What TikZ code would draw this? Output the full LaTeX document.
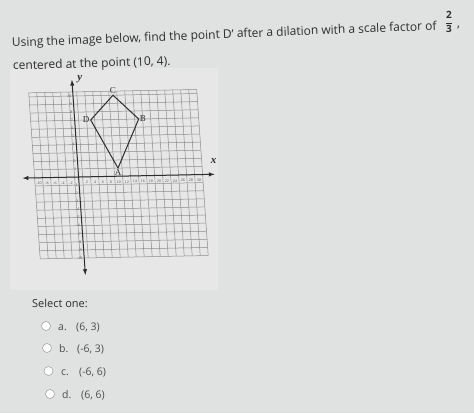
\documentclass[tikz,border=0pt]{standalone}
\usepackage{amsmath}
\usepackage{fontspec}
\setmainfont{Open Sans}
\newfontfamily\plotfont{Liberation Serif}
\usetikzlibrary{arrows, positioning}
\definecolor{screen}{RGB}{224,226,225}
\definecolor{panel}{RGB}{230,231,230}
\definecolor{ink}{RGB}{45,45,45}
\definecolor{gridcol}{RGB}{140,140,140}
\tikzset{
question/.style={anchor=base west, text=ink, font=\fontsize{12}{14}\selectfont, inner sep=0pt}, % text of the question
gridline/.style={gridcol, line width=0.5pt},
axis/.style={latex-latex, ink, line width=1pt},
kite/.style={ink, line width=1pt, line join=round},
vlbl/.style={font=\plotfont\fontsize{9}{9}\selectfont, text=ink, inner sep=1pt}, % vertex letters
axlbl/.style={font=\plotfont\itshape\bfseries\fontsize{11}{11}\selectfont, text=ink, inner sep=0pt},
ticklbl/.style={font=\plotfont\fontsize{4}{4}\selectfont, text=gridcol!60!black, inner sep=0pt},
radio/.style={circle, draw=gray!70, fill=white, line width=0.6pt, minimum size=9pt, inner sep=0pt},
optlbl/.style={anchor=base west, text=ink!85, font=\fontsize{10.5}{12}\selectfont, inner sep=0pt},
}

\begin{document}
\begin{tikzpicture}[x=1pt, y=1pt]
        \useasboundingbox (0,0) rectangle (474,413);
        \fill[screen] (0,0) rectangle (474,413);
        \fill[panel] (10,123) rectangle (218,345);
        % question
        \node[question, rotate=2.3] (q1) at (12,366) {Using the image below, find the point D\textquoteright{} after a dilation with a scale factor of};
        \node[text=ink, font=\fontsize{10}{12}\selectfont, inner sep=0pt] (frac) at (449,391) {$\dfrac{\text{\textbf{2}}}{\text{\textbf{3}}}$};
        \node[question] (comma) at (457,385) {,};
        \node[question, rotate=1.8] (q2) at (13,343) {centered at the point (10, 4).};
        % the graph, slanted like the photo
        \begin{scope}[shift={(78.6,236)}, x={(4pt,0.08pt)}, y={(-0.56pt,8.1pt)}]
        \foreach \gx in {-11,-9,...,31} \draw[gridline] (\gx,-10) -- (\gx,10.5);
        \foreach \gy in {-10,...,10} \draw[gridline] (-11,\gy) -- (31,\gy);
        \draw[gridline] (-11,10.5) -- (31,10.5);
        \foreach \t in {-10,-8,...,30} {\ifnum\t=0\else\node[ticklbl] at (\t,-0.7) {\t};\fi}
        \foreach \t in {-10,...,10} {\ifnum\t=0\else\node[ticklbl, anchor=east] at (-0.4,\t) {\t};\fi}
        \coordinate (xl) at (-14,0);
        \coordinate (xr) at (34,0);
        \coordinate (yb) at (0,-12.1);
        \coordinate (yt) at (0,12);
        \draw[axis] (xl) -- (xr);
        \draw[axis] (yb) -- (yt);
        \node[axlbl] (xlab) at (34,1.7) {x};
        \node[axlbl] (ylab) at (2,12) {y};
        \coordinate (A) at (10,1);
        \coordinate (B) at (16,7);
        \coordinate (C) at (10,10);
        \coordinate (D) at (4,7);
        \draw[kite] (A) -- (B) -- (C) -- (D) -- cycle;
        \node[vlbl, above] (Clab) at (C) {C};
        \node[vlbl, left] (Dlab) at (D) {D};
        \node[vlbl, right] (Blab) at (B) {B};
        \node[vlbl, below] (Alab) at (A) {A};
        \end{scope}
        % answers
        \node[question, font=\fontsize{11}{13}\selectfont] (sel) at (32,106) {Select one:};
        \node[radio] (ra) at (46,87) {};
        \node[optlbl] (la) at (58,83) {a.};
        \node[optlbl] (va) at (76,83) {(6, 3)};
        \node[radio] (rb) at (47,65) {};
        \node[optlbl] (lb) at (59,61) {b.};
        \node[optlbl] (vb) at (77,61) {(-6, 3)};
        \node[radio] (rc) at (48.5,42) {};
        \node[optlbl] (lc) at (61,38) {c.};
        \node[optlbl] (vc) at (79,38) {(-6, 6)};
        \node[radio] (rd) at (50,19) {};
        \node[optlbl] (ld) at (62,15) {d.};
        \node[optlbl] (vd) at (81,15) {(6, 6)};
\end{tikzpicture}
\end{document}
